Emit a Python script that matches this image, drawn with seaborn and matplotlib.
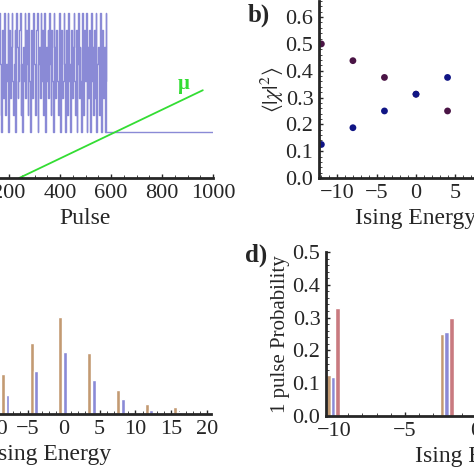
import matplotlib
matplotlib.use("Agg")
import matplotlib.pyplot as plt
import seaborn as sns
import numpy as np

sns.set_style("ticks")
plt.rcParams['font.family'] = ['Liberation Serif', 'DejaVu Serif']
plt.rcParams['mathtext.fontset'] = 'stix'

# Panel a: energy trace per pulse (sampled every 3 pulses until ~612), then flat
trace_levels = [4,-4,12,0,-8,16,4,-12,8,0,16,-4,12,-8,4,0,16,-12,8,4,
                -4,12,0,16,-8,4,8,-12,16,0,-4,12,4,-8,16,0,8,-12,4,12,
                -4,16,0,8,-8,12,4,-12,16,-4,0,12,8,-8,16,4,-12,0,12,-4,
                16,8,-8,4,0,16,-12,12,-4,8,16,0,-8,4,12,-12,16,8,-4,0,
                12,16,-8,4,-12,8,0,16,-4,12,4,-8,16,0,-12,8,12,-4,16,4,
                0,-8,12,16,-12,4,8,-4,16,0,12,-8,4,16,-12,8,0,12,-4,16,
                4,-8,12,0,-12,16,8,-4,12,4,0,-8,16,-12,8,12,-4,0,16,4,
                -12,12,8,-8,16,0,4,-12,12,-4,8,16,0,-8,12,-12,4,16,-4,8,
                0,-12,16,4,-8,12,0,16,-12,8,-4,12,4,-12,16,0,8,-8,12,-4,
                16,-12,4,8,-8,0,16,-12,12,4,-4,8,-12,16,0]
flat_level = -12
mu_start = (240, -22.8)
mu_end = (960, -2.1)

# Panel b: <|chi|^2> vs Ising energy
b_energy = [-12, -8, -4, 0, 4]
b_purple = [0.5, 0.4375, 0.375, 0.3125, 0.25]
b_blue = [0.125, 0.1875, 0.25, 0.3125, 0.375]

# Panel c: histograms
c_energy = [-8, -4, 0, 4, 8, 12, 16]
c_orange = [0.10, 0.178, 0.243, 0.153, 0.060, 0.025, 0.018]
c_blue = [0.048, 0.108, 0.155, 0.085, 0.038, 0.010, 0.005]

# Panel d: 1 pulse probability
d_energy = [-10, -2]
d_orange = [0.125, 0.25]
d_blue = [0.12, 0.255]
d_red = [0.33, 0.30]

ORANGE = '#c39a72'
BLUE = '#8a8ad6'
RED = '#c97a80'

fig = plt.figure(figsize=(4.74, 4.74), dpi=100)
W = H = 474.0
def ax_px(left, bottom, width, height):
    return fig.add_axes([left / W, (H - bottom) / H, width / W, height / H])

def style(ax, left=True):
    sns.despine(ax=ax)
    ax.spines['bottom'].set_linewidth(2)
    ax.spines['left'].set_linewidth(2 if left else 0)
    ax.tick_params(direction='in', length=3, width=1, labelsize=16, pad=4)
    ax.minorticks_on()
    ax.tick_params(which='minor', direction='in', length=2)
    ax.patch.set_alpha(0)

# a
axa = ax_px(-42, 178, 255, 173)
pulses = np.arange(len(trace_levels)) * 3
sns.lineplot(x=pulses, y=trace_levels, ax=axa, color=BLUE, lw=1, drawstyle='steps-post')
sns.lineplot(x=[pulses[-1], 1000], y=[flat_level, flat_level], ax=axa, color=BLUE, lw=1)
sns.lineplot(x=[mu_start[0], mu_end[0]], y=[mu_start[1], mu_end[1]], ax=axa, color='#33dd33', lw=1.3)
axa.set_xlim(0, 1000); axa.set_ylim(-22.8, 18)
axa.set_xticks([0, 200, 400, 600, 800, 1000]); axa.set_yticks([])
axa.set_xlabel('Pulse', fontsize=17)
style(axa, left=False)
axa.text(860, -1.8, 'μ', color='#33dd33', fontsize=15, fontweight='bold')

# b
axb = ax_px(319, 178, 194, 177)
sns.scatterplot(x=b_energy, y=b_purple, ax=axb, color='#4a1445', s=24, edgecolor='none')
sns.scatterplot(x=b_energy, y=b_blue, ax=axb, color='#101585', s=24, edgecolor='none')
axb.set_xlim(-12.3, 12.3); axb.set_ylim(0, 0.66)
axb.set_xticks([-10, -5, 0, 5, 10]); axb.set_yticks(np.arange(0, 0.61, 0.1))
axb.set_yticklabels([f'{v:.1f}' for v in np.arange(0, 0.61, 0.1)])
axb.set_xticklabels(['−10', '−5', '0', '5', '10'])
axb.set_xlabel('Ising Energy', fontsize=17)
axb.set_ylabel(r'$\langle|\chi|^2\rangle$', fontsize=16, labelpad=0)
style(axb)
fig.text(248 / W, 1 - 22 / H, 'b)', fontsize=18, fontweight='bold')

# c
axc = ax_px(-109, 414, 320, 160)
ce = np.array(c_energy)
axc.bar(ce - 0.45, c_orange, width=0.55, color=ORANGE)
axc.bar(ce + 0.2, c_blue, width=0.55, color=BLUE)
axc.set_xlim(-24, 20.5); axc.set_ylim(0, 0.4)
axc.set_xticks([-20, -15, -10, -5, 0, 5, 10, 15, 20]); axc.set_yticks([])
axc.set_xticklabels(['−20', '−15', '−10', '−5', '0', '5', '10', '15', '20'])
axc.set_xlabel('Ising Energy', fontsize=17)
style(axc, left=False)

# d
axd = ax_px(326, 416, 300, 164)
de = np.array(d_energy)
axd.bar(de - 0.4, d_orange, width=0.33, color=ORANGE)
axd.bar(de - 0.07, d_blue, width=0.33, color=BLUE)
axd.bar(de + 0.26, d_red, width=0.33, color=RED)
axd.set_xlim(-10.56, 10.56); axd.set_ylim(0, 0.5)
axd.set_xticks([-10, -5, 0, 5, 10]); axd.set_xticklabels(['−10', '−5', '0', '5', '10'])
axd.set_yticks(np.arange(0, 0.51, 0.1))
axd.set_yticklabels([f'{v:.1f}' for v in np.arange(0, 0.51, 0.1)])
axd.set_xlabel('Ising Energy', fontsize=17)
axd.set_ylabel('1 pulse Probability', fontsize=15, labelpad=2)
style(axd)
fig.text(245 / W, 1 - 262 / H, 'd)', fontsize=18, fontweight='bold')

fig.savefig('out.png', dpi=100)
